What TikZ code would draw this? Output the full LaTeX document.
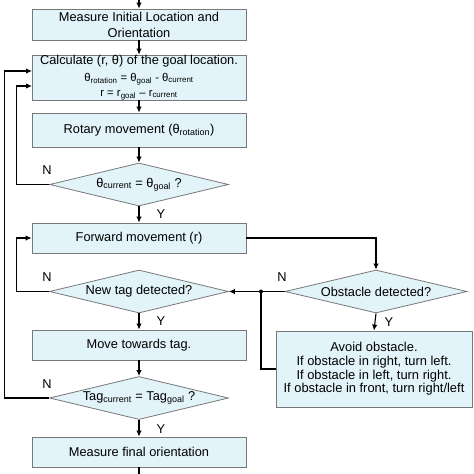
\documentclass[tikz,border=0pt]{standalone}
\usepackage{fontspec}
\setmainfont{Liberation Sans}
\usetikzlibrary{shapes.geometric,arrows.meta}
\definecolor{boxfill}{RGB}{226,243,249}
\definecolor{boxline}{RGB}{120,120,120}
\newcommand{\sbs}[1]{\textsubscript{#1}}
\begin{document}
\begin{tikzpicture}[x=1pt,y=-1pt,
  txt/.style={font=\fontsize{12.8}{16}\selectfont},
  procbox/.style={txt,draw=boxline,fill=boxfill,line width=0.8pt,minimum width=214pt,inner sep=0pt,align=center},
  decbox/.style={txt,draw=boxline,fill=boxfill,line width=0.8pt,diamond,aspect=4.1,inner sep=0pt,minimum width=179pt,minimum height=43pt},
  conn/.style={line width=1.1pt},
  arr/.style={conn,-{Latex[length=6pt,width=5.5pt]}},
  lbl/.style={txt,inner sep=0pt}]
\useasboundingbox (0,0) rectangle (474,474);
\node[procbox,minimum height=31pt] (b1) at (139,24.5) {Measure Initial Location and\\Orientation};
\node[procbox,minimum height=45pt] (b2) at (139,77.5) {\raisebox{1pt}{Calculate (r, θ) of the goal location.}\\[0pt]
  {\fontsize{11.3}{15}\selectfont θ\sbs{rotation} = θ\sbs{goal} - θ\sbs{current}}\\[-1pt]
  {\fontsize{11.3}{15}\selectfont r = r\sbs{goal} – r\sbs{current}}};
\node[procbox,minimum height=34pt] (b3) at (139,130) {Rotary movement (θ\sbs{rotation})};
\node[decbox] (d1) at (139,184.5) {θ\sbs{current} = θ\sbs{goal} ?};
\node[procbox,minimum height=30pt] (b4) at (139,238) {Forward movement (r)};
\node[decbox] (d2) at (139,291.5) {New tag detected?};
\node[decbox,minimum width=182pt] (ob) at (376,291.5) {Obstacle detected?};
\node[procbox,minimum width=196pt,minimum height=76pt,font=\fontsize{12.9}{13.7}\selectfont] (av) at (374,369) {Avoid obstacle.\\If obstacle in right, turn left.\\If obstacle in left, turn right.\\If obstacle in front, turn right/left};
\node[procbox,minimum height=30pt] (b5) at (139,345) {Move towards tag.};
\node[decbox] (d3) at (139,398) {Tag\sbs{current} = Tag\sbs{goal} ?};
\node[procbox,minimum height=30pt] (b6) at (139,452) {Measure final orientation};
\coordinate (top) at (139,0);
\coordinate (bot) at (139,474);
\coordinate (j0) at (32,71);
\coordinate (j1) at (32,86);
\coordinate (dot) at (261,291.5);
\draw[arr] (top) -- (b1);
\draw[arr] (b1) -- (b2);
\draw[arr] (b2) -- (b3);
\draw[arr] (b3) -- (d1);
\draw[arr] (d1) -- (b4);
\draw[arr] (d2) -- (b5);
\draw[arr] (b5) -- (d3);
\draw[arr] (d3) -- (b6);
\draw[conn] (b6) -- (bot);
\draw[arr] (d1.west) -- ++(-33,0) |- (j1);
\draw[arr] (d3.west) -- ++(-45,0) |- (j0);
\draw[arr] (d2.west) -- ++(-33,0) |- (b4.west);
\draw[arr] (b4.east) -| (ob.north);
\draw[arr] (ob.west) -- (d2.east);
\draw[arr] (ob.south) -- (av.north);
\draw[conn] (av.west) -| (dot);
\fill (dot) circle (2pt);
\node[lbl] (n1) at (47,170) {N};
\node[lbl] (y1) at (161,214) {Y};
\node[lbl] (n2) at (47,277) {N};
\node[lbl] (y2) at (161,321) {Y};
\node[lbl] (n3) at (47,384) {N};
\node[lbl] (y3) at (161,429) {Y};
\node[lbl] (n4) at (282,277) {N};
\node[lbl] (y4) at (389,322) {Y};
\end{tikzpicture}
\end{document}
